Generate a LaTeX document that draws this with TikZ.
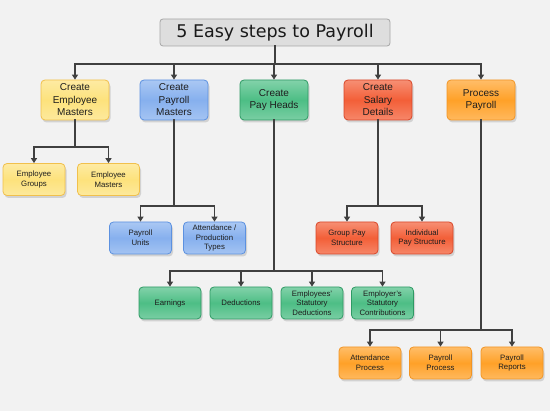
\documentclass[tikz,border=0pt]{standalone}
\usepackage{fontspec}
\setmainfont{Liberation Sans}
\newfontfamily\titlefont{DejaVu Sans}
\usetikzlibrary{arrows.meta,shadows}

% Colours
\definecolor{bgcol}{HTML}{F2F2F2}
\definecolor{linecol}{HTML}{404040}
\definecolor{txtcol}{HTML}{1E1E1E}
\definecolor{yel}{HTML}{FDE27C}
\definecolor{yelD}{HTML}{F1C04C}
\definecolor{blu}{HTML}{86B0EE}
\definecolor{bluD}{HTML}{5C91E0}
\definecolor{grn}{HTML}{4DBE85}
\definecolor{grnD}{HTML}{2E9A64}
\definecolor{rd}{HTML}{F35F38}
\definecolor{rdD}{HTML}{D84628}
\definecolor{org}{HTML}{FFA128}
\definecolor{orgD}{HTML}{F29524}

\tikzset{
  conn/.style={draw=linecol,line width=1.8pt,line cap=rect},
  arr/.style={draw=linecol,line width=1.8pt,-{Triangle[width=6pt,length=5pt]}},
  box/.style={rounded corners=4pt,align=center,inner sep=0pt,text=txtcol,line width=0.8pt,
    drop shadow={opacity=0.28,shadow xshift=1.5pt,shadow yshift=-2.5pt}},
  mainbox/.style={box,minimum width=68pt,minimum height=40pt,font=\fontsize{10}{12.5}\selectfont},
  subbox/.style={box,minimum width=62pt,minimum height=32pt,font=\fontsize{7.8}{9.7}\selectfont},
  gloss/.style={draw=#1D,top color=#1!70!white,bottom color=#1!75!white,middle color=#1},
  titlebox/.style={draw=black!35,fill=black!13,rounded corners=3pt,line width=0.8pt,
    minimum width=230pt,minimum height=27pt,inner sep=0pt,text=black!90,
    font=\titlefont\fontsize{17.5}{20}\selectfont}
}

\begin{document}
\begin{tikzpicture}[x=1pt,y=-1pt]
  % Canvas
  \fill[bgcol] (0,0) rectangle (550,411);
  \useasboundingbox (0,0) rectangle (550,411);

  % Title
  \node[titlebox] (title) at (275,32.5) {5 Easy steps to Payroll};

  % The five steps
  \node[mainbox,gloss=yel] (cem) at (75,100) {Create\\Employee\\Masters};
  \node[mainbox,gloss=blu] (cpm) at (174,100) {Create\\Payroll\\Masters};
  \node[mainbox,gloss=grn] (cph) at (274,100) {Create\\Pay Heads};
  \node[mainbox,gloss=rd] (csd) at (378,100) {Create\\Salary\\Details};
  \node[mainbox,gloss=org] (pp) at (481,100) {Process\\Payroll};

  % Employee masters
  \node[subbox,gloss=yel] (eg) at (34,179.5) {Employee\\Groups};
  \node[subbox,gloss=yel] (emm) at (108.5,179.5) {Employee\\Masters};

  % Payroll masters
  \node[subbox,gloss=blu] (pu) at (140.5,238) {Payroll\\Units};
  \node[subbox,gloss=blu] (apt) at (214.5,238) {Attendance /\\Production\\Types};

  % Salary details
  \node[subbox,gloss=rd] (gps) at (347,238) {Group Pay\\Structure};
  \node[subbox,gloss=rd] (ips) at (422,238) {Individual\\Pay Structure};

  % Pay heads
  \node[subbox,gloss=grn] (earn) at (170,303) {Earnings};
  \node[subbox,gloss=grn] (ded) at (241,303) {Deductions};
  \node[subbox,gloss=grn] (esd) at (312,303) {Employees'\\Statutory\\Deductions};
  \node[subbox,gloss=grn] (esc) at (382.5,303) {Employer's\\Statutory\\Contributions};

  % Processing
  \node[subbox,gloss=org] (ap) at (370,363) {Attendance\\Process};
  \node[subbox,gloss=org] (ppr) at (440.5,363) {Payroll\\Process};
  \node[subbox,gloss=org] (prep) at (512,363) {Payroll\\Reports};

  % Bus heights
  \coordinate (topBus) at (0,64);
  \coordinate (cemBus) at (0,147);
  \coordinate (cpmBus) at (0,206);
  \coordinate (csdBus) at (0,206);
  \coordinate (cphBus) at (0,271);
  \coordinate (ppBus) at (0,330);

  % Title to steps
  \draw[conn] (title.south) -- (title.south |- topBus);
  \draw[conn] (cem.north |- topBus) -- (pp.north |- topBus);
  \foreach \n in {cem,cpm,cph,csd,pp}
    \draw[arr] (\n.north |- topBus) -- (\n.north);

  % Steps to their parts
  \foreach \p/\a/\b/\kids in {cem/eg/emm/{eg,emm},cpm/pu/apt/{pu,apt},csd/gps/ips/{gps,ips},
                             cph/earn/esc/{earn,ded,esd,esc},pp/ap/prep/{ap,ppr,prep}}{
    \draw[conn] (\p.south) -- (\p.south |- \p Bus);
    \draw[conn] (\a.north |- \p Bus) -- (\b.north |- \p Bus);
    \foreach \k in \kids
      \draw[arr] (\k.north |- \p Bus) -- (\k.north);
  }
\end{tikzpicture}
\end{document}
